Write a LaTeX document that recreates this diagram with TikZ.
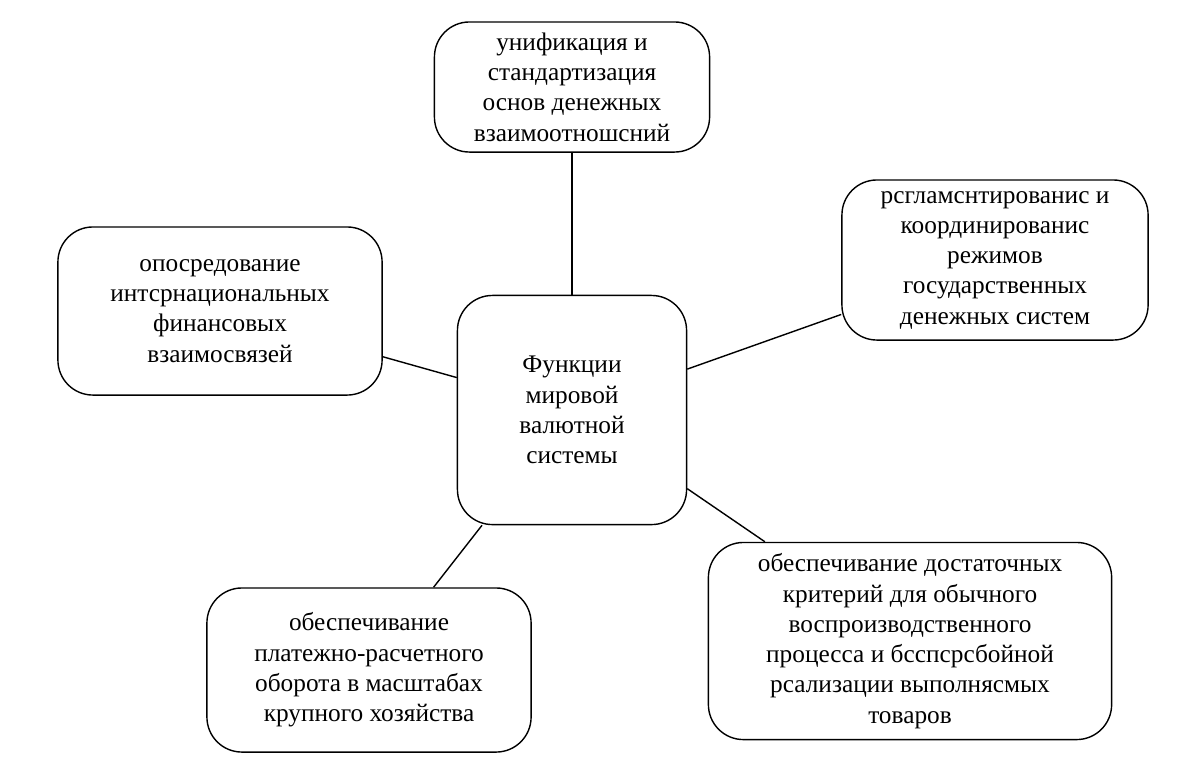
\documentclass[tikz,border=0pt]{standalone}
\usepackage{fontspec}
\setmainfont{Liberation Serif}
\tikzset{
  func/.style={draw, rounded corners=0.35cm, align=center, font=\fontsize{7.2}{8.6}\selectfont, inner sep=1pt}
}
\begin{document}
\begin{tikzpicture}[x=0.01cm, y=-0.01cm]
\useasboundingbox (0,0) rectangle (1177,772);
% Centre
\node[func, minimum width=2.29cm, minimum height=2.29cm] (main) at (572,410) {Функции\\мировой\\валютной\\системы};
% Around
\node[func, minimum width=2.75cm, minimum height=1.30cm] (top) at (572,87) {унификация и\\стандартизация\\основ денежных\\взаимоотношсний};
\node[func, minimum width=3.06cm, minimum height=1.60cm] (right) at (995,260) {рсгламснтированис и\\координированис\\режимов\\государственных\\денежных систем};
\node[func, minimum width=3.24cm, minimum height=1.68cm] (left) at (220,311) {опосредование\\интсрнациональных\\финансовых\\взаимосвязей};
\node[func, minimum width=3.24cm, minimum height=1.64cm] (botleft) at (369,670) {обеспечивание\\платежно-расчетного\\оборота в масштабах\\крупного хозяйства};
\node[func, minimum width=4.03cm, minimum height=1.97cm] (botright) at (910,641) {обеспечивание достаточных\\критерий для обычного\\воспроизводственного\\процесса и бсспсрсбойной\\рсализации выполнясмых\\товаров};
\draw (main) -- (top);
\draw (main) -- (left);
\draw (main) -- (right);
\draw (main) -- (botleft);
\draw (main) -- (botright);
\end{tikzpicture}
\end{document}
